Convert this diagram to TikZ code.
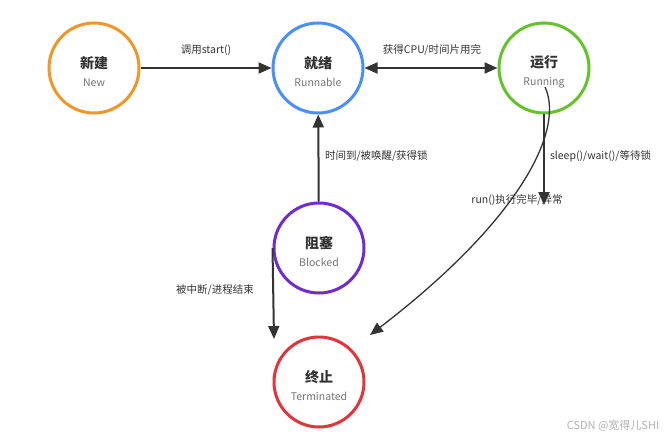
\documentclass[tikz,border=0pt]{standalone}
\usepackage{fontspec}
\setmainfont{Noto Sans CJK SC}
\usetikzlibrary{arrows.meta}
\definecolor{cnew}{HTML}{F0962A}
\definecolor{cready}{HTML}{4B8EF8}
\definecolor{crun}{HTML}{66C22C}
\definecolor{cblock}{HTML}{6F2DD0}
\definecolor{cend}{HTML}{E2343A}
\definecolor{cline}{HTML}{333333}
\def\statesize{90pt}

\begin{document}
\begin{tikzpicture}[x=1pt,y=-1pt,-{Triangle[length=13pt,width=11pt]},draw=cline,line width=2pt]
      \tikzstyle{state}=[circle,draw,line width=3pt,minimum size=\statesize,inner sep=0pt,align=center,font=\fontsize{14}{18}\selectfont\bfseries,text=cline]
      \tikzstyle{annot}=[font=\fontsize{10.5}{12}\selectfont,text=cline,inner sep=1pt]

      \useasboundingbox (0,0) rectangle (672,441);

      % Draw the state nodes
      \foreach \name/\x/\y/\col/\zh/\en in {new/94/68/cnew/新建/New,
          ready/318/68/cready/就绪/Runnable, run/544/68/crun/运行/Running,
          blocked/319/248/cblock/阻塞/Blocked, dead/319/382/cend/终止/Terminated}
          \node[state, draw=\col] (\name) at (\x,\y) {\rule{0pt}{20pt}\zh\\[0pt]{\fontsize{10.5}{13}\selectfont\mdseries\color{black!55}\en}};

      % Free ends of the connectors
      \coordinate (sleepend) at (544,205);
      \coordinate (intend) at (274,339);
      \coordinate (curvestart) at (545,87);
      \coordinate (curveend) at (370,335);

      % Connect the states
      \draw (new) -- (ready);
      \draw[{Triangle[length=13pt,width=11pt]}-{Triangle[length=13pt,width=11pt]}] (ready) -- (run);
      \draw (blocked) -- (ready);
      \draw (run.south) -- (sleepend);
      \draw (blocked.west) -- (intend);
      \draw[line width=1.3pt] (curvestart) .. controls (565,130) and (520,220) .. (curveend);

      % Annotate the connectors
      \node[annot] at (206,50) {调用start()};
      \node[annot] at (432,50) {获得CPU/时间片用完};
      \node[annot,anchor=west] at (323,156) {时间到/被唤醒/获得锁};
      \node[annot,anchor=west] at (548,156) {sleep()/wait()/等待锁};
      \node[annot] at (517,200) {run()执行完毕/异常};
      \node[annot] at (215,290) {被中断/进程结束};
      \node[annot,font=\fontsize{11}{13}\selectfont,text=black!30] at (613,426) {CSDN @宽得儿SHI};
\end{tikzpicture}
\end{document}
